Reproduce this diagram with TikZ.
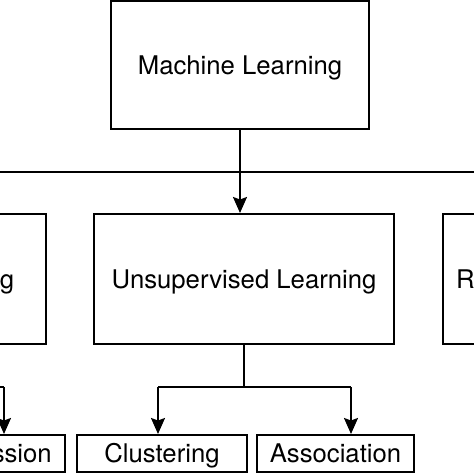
\documentclass[tikz,border=0pt]{standalone}
\usepackage{fontspec}
\setmainfont{TeX Gyre Heros}
\usetikzlibrary{arrows.meta}

\tikzset{
    box/.style={draw, line width=2pt, fill=white, inner sep=0pt,
        text height=18.5pt, text depth=0pt,
        font=\fontsize{25.7}{30}\selectfont},
    link/.style={line width=2pt},
    arr/.style={link, -{Stealth[length=16pt,width=14pt,inset=2.5pt]}}
}

\begin{document}
\begin{tikzpicture}[x=1pt, y=-1pt]
        \useasboundingbox (0,0) rectangle (474,474);
        \clip (0,0) rectangle (474,474);
        \coordinate (bus) at (240,172);
        \coordinate (ubus) at (244,387);
        \coordinate (c0) at (4,387);
        \coordinate (c1) at (158,387);
        \coordinate (c2) at (351,387);
        \draw (240,65) node[box, minimum width=258pt, minimum height=128pt](ml) {Machine Learning};
        \draw (-104,279) node[box, minimum width=300pt, minimum height=130pt](sup) {Supervised Learning};
        \draw (244,279) node[box, minimum width=300pt, minimum height=130pt](unsup) {Unsupervised Learning};
        \draw (593,279) node[box, minimum width=300pt, minimum height=130pt](rl) {Reinforcement Learning};
        \draw (-13,453.5) node[box, minimum width=156pt, minimum height=37pt](reg) {Regression};
        \draw (162,453.5) node[box, minimum width=170pt, minimum height=37pt](clu) {Clustering};
        \draw (335.5,453.5) node[box, minimum width=157pt, minimum height=37pt](asc) {Association};
        % top level
        \draw[arr] (ml) -- (ml |- unsup.north);
        \draw[link] (sup |- bus) -- (rl |- bus);
        \draw[arr] (sup |- bus) -- (sup);
        \draw[arr] (rl |- bus) -- (rl);
        % supervised branch
        \draw[link] (sup) -- (sup |- ubus) -- (c0);
        \draw[arr] (c0) -- (c0 |- reg.north);
        % unsupervised branch
        \draw[link] (unsup) -- (ubus);
        \draw[link] (c1) -- (c2);
        \draw[arr] (c1) -- (c1 |- clu.north);
        \draw[arr] (c2) -- (c2 |- asc.north);
    \end{tikzpicture}
\end{document}
